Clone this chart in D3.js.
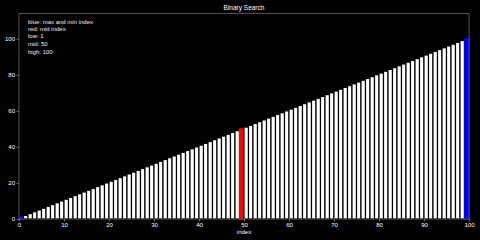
<!DOCTYPE html>
<html>
<head>
<meta charset="utf-8">
<script src="https://cdn.jsdelivr.net/npm/d3@7"></script>
<style>
  body { margin: 0; background: #000; }
  text { font-family: "Liberation Sans", sans-serif; fill: #fff; }
</style>
</head>
<body>
<div id="chart"></div>
<script>
// data: array being searched, values 1..100
var values = [1,2,3,4,5,6,7,8,9,10,11,12,13,14,15,16,17,18,19,20,
  21,22,23,24,25,26,27,28,29,30,31,32,33,34,35,36,37,38,39,40,
  41,42,43,44,45,46,47,48,49,50,51,52,53,54,55,56,57,58,59,60,
  61,62,63,64,65,66,67,68,69,70,71,72,73,74,75,76,77,78,79,80,
  81,82,83,84,85,86,87,88,89,90,91,92,93,94,95,96,97,98,99,100];
var lowIndex = 0, midIndex = 49, highIndex = 99;
var infoLines = ["blue: max and min index", "red: mid index", "low: 1", "mid: 50", "high: 100"];
var xTicks = [0,10,20,30,40,50,60,70,80,90,100];
var yTicks = [0,20,40,60,80,100];

var W = 480, H = 240;
var margin = {top: 13.5, right: 11, bottom: 21, left: 19};

var svg = d3.select("#chart").append("svg")
    .attr("width", W)
    .attr("height", H)
    .style("background", "#000");

var x = d3.scaleLinear().domain([0, 100]).range([margin.left, W - margin.right]);
var y = d3.scaleLinear().domain([0, 114]).range([H - margin.bottom, margin.top]);

function barColor(i) {
  if (i === lowIndex || i === highIndex) return "#0000ff";
  if (i === midIndex) return "#ff0000";
  return "#ffffff";
}

svg.selectAll(".bar")
    .data(values)
  .enter().append("rect")
    .attr("class", "bar")
    .attr("x", function(d, i) { return x(i); })
    .attr("width", function(d, i) { return x(i + 1) - x(i); })
    .attr("y", function(d) { return y(d); })
    .attr("height", function(d) { return y(0) - y(d); })
    .attr("fill", function(d, i) { return barColor(i); })
    .attr("stroke", function(d, i) { return barColor(i) === "#ffffff" ? "#000" : barColor(i); })
    .attr("stroke-width", 1.2);

// frame
svg.append("rect")
    .attr("x", margin.left)
    .attr("y", margin.top)
    .attr("width", W - margin.left - margin.right)
    .attr("height", H - margin.top - margin.bottom)
    .attr("fill", "none")
    .attr("stroke", "#666")
    .attr("stroke-width", 0.8);

var xAxis = svg.append("g")
    .attr("transform", "translate(0," + (H - margin.bottom) + ")")
    .call(d3.axisBottom(x).tickValues(xTicks).tickSize(2.5).tickPadding(1.5));
var yAxis = svg.append("g")
    .attr("transform", "translate(" + margin.left + ",0)")
    .call(d3.axisLeft(y).tickValues(yTicks).tickSize(2.5).tickPadding(1.5));

[xAxis, yAxis].forEach(function(a) {
  a.attr("color", "#ddd");
  a.select(".domain").remove();
  a.selectAll(".tick line").attr("stroke", "#aaa").attr("stroke-width", 0.6);
  a.selectAll(".tick text").style("font-size", "6px")
      .style("font-family", "Liberation Sans, sans-serif");
});

svg.append("text")
    .attr("x", (margin.left + W - margin.right) / 2)
    .attr("y", 9.5)
    .attr("text-anchor", "middle")
    .style("font-size", "6.5px")
    .text("Binary Search");

svg.append("text")
    .attr("x", (margin.left + W - margin.right) / 2)
    .attr("y", 234)
    .attr("text-anchor", "middle")
    .style("font-size", "6px")
    .text("index");

var lineY = [21.5, 28.5, 36, 44, 52];
svg.selectAll(".info")
    .data(infoLines)
  .enter().append("text")
    .attr("class", "info")
    .attr("x", 28)
    .attr("y", function(d, i) { return lineY[i] + 2; })
    .style("font-size", "6px")
    .style("fill", "#eee")
    .text(function(d) { return d; });
</script>
</body>
</html>
